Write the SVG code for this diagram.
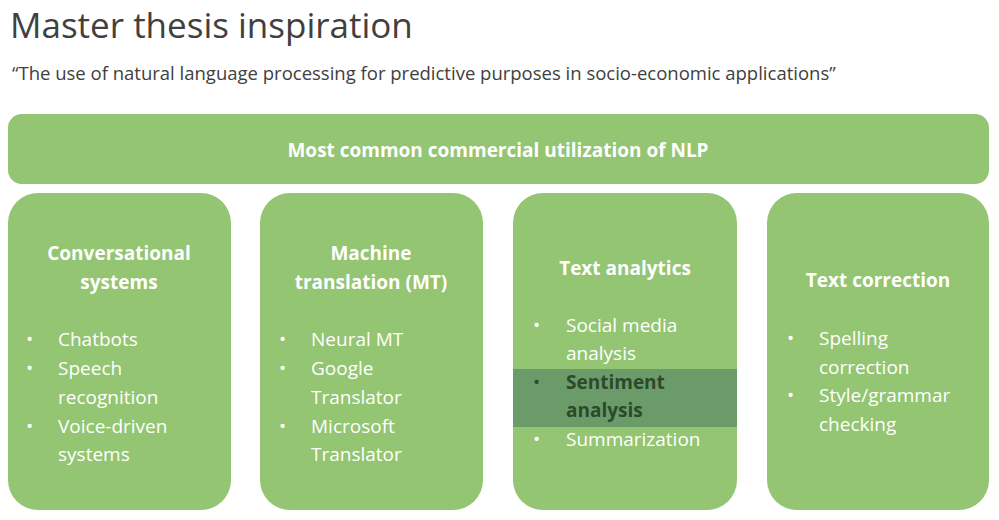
<svg xmlns="http://www.w3.org/2000/svg" width="999" height="520" viewBox="0 0 999 520">
<style>
.box{fill:#93c572}
.h{font-family:"Open Sans","Liberation Sans",sans-serif;font-weight:bold;font-size:19px;fill:#fff;text-anchor:middle}
.b{font-family:"Open Sans","Liberation Sans",sans-serif;font-size:19px;fill:#fff}
</style>
<rect width="999" height="520" fill="#fff"/>
<text x="10" y="38" font-family="Open Sans, Liberation Sans, sans-serif" font-size="35" fill="#404040">Master thesis inspiration</text>
<text x="12" y="80" font-family="Open Sans, Liberation Sans, sans-serif" font-size="18.5" fill="#404040">“The use of natural language processing for predictive purposes in socio-economic applications”</text>
<g id="top"><rect class="box" x="8" y="114" width="981" height="70" rx="14"/><text class="h" x="498" y="157">Most common commercial utilization of NLP</text></g>
<g id="n1"><rect class="box" x="8" y="193" width="223" height="317" rx="30"/>
<text class="h" x="119" y="260">Conversational</text><text class="h" x="119" y="289">systems</text>
<text class="b" x="26" y="346">•</text><text class="b" x="58" y="346">Chatbots</text>
<text class="b" x="26" y="375">•</text><text class="b" x="58" y="375">Speech</text><text class="b" x="58" y="404">recognition</text>
<text class="b" x="26" y="433">•</text><text class="b" x="58" y="433">Voice-driven</text><text class="b" x="58" y="461">systems</text></g>
<g id="n2"><rect class="box" x="260" y="193" width="223" height="317" rx="30"/>
<text class="h" x="371" y="260">Machine</text><text class="h" x="371" y="289">translation (MT)</text>
<text class="b" x="279" y="346">•</text><text class="b" x="311" y="346">Neural MT</text>
<text class="b" x="279" y="375">•</text><text class="b" x="311" y="375">Google</text><text class="b" x="311" y="404">Translator</text>
<text class="b" x="279" y="433">•</text><text class="b" x="311" y="433">Microsoft</text><text class="b" x="311" y="461">Translator</text></g>
<g id="n3"><rect class="box" x="513" y="193" width="224" height="317" rx="30"/>
<rect x="513" y="369" width="224" height="58" fill="#6b9b68"/>
<text class="h" x="625" y="275">Text analytics</text>
<text class="b" x="533" y="332">•</text><text class="b" x="566" y="332">Social media</text><text class="b" x="566" y="360">analysis</text>
<text class="b" x="533" y="389" style="fill:#2b4a2b">•</text><text class="b" x="566" y="389" style="fill:#2b4a2b;font-weight:bold">Sentiment</text><text class="b" x="566" y="417" style="fill:#2b4a2b;font-weight:bold">analysis</text>
<text class="b" x="533" y="446">•</text><text class="b" x="566" y="446">Summarization</text></g>
<g id="n4"><rect class="box" x="767" y="193" width="222" height="317" rx="30"/>
<text class="h" x="878" y="287">Text correction</text>
<text class="b" x="787" y="345">•</text><text class="b" x="819" y="345">Spelling</text><text class="b" x="819" y="374">correction</text>
<text class="b" x="787" y="402">•</text><text class="b" x="819" y="402">Style/grammar</text><text class="b" x="819" y="431">checking</text></g>
<g id="connectors"/>
</svg>
